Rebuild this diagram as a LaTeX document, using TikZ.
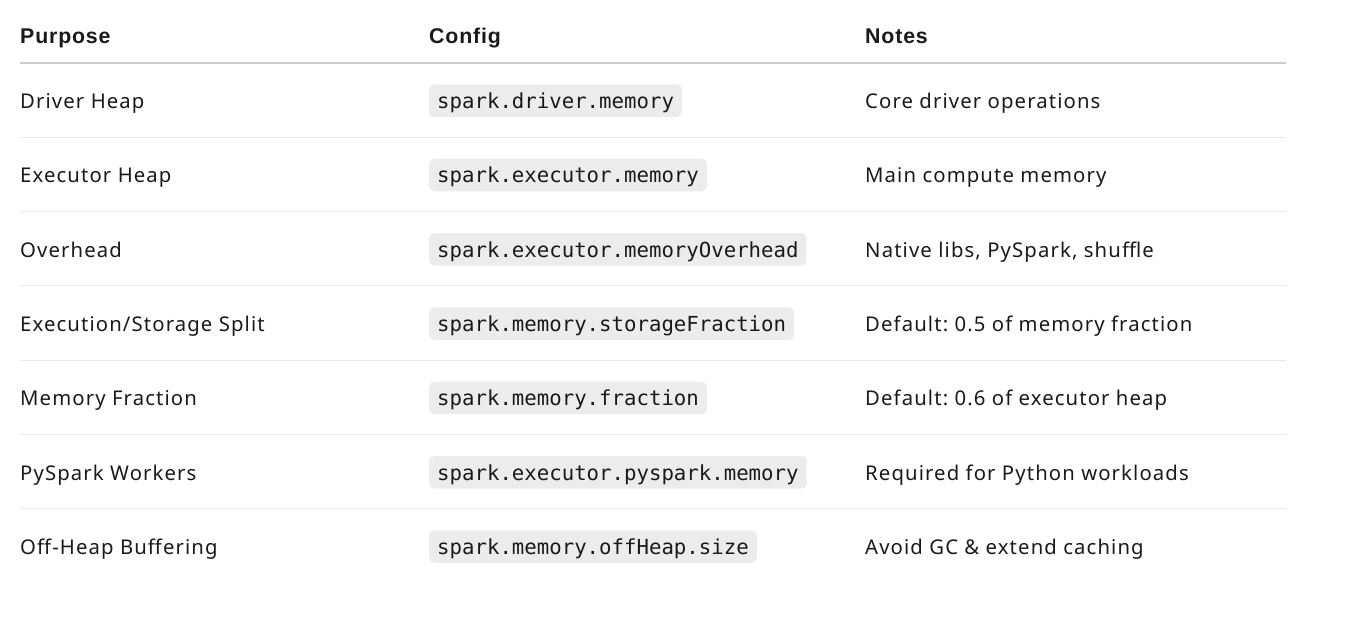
\documentclass[tikz,border=0pt]{standalone}
\usepackage{fontspec}
\setmainfont[LetterSpace=5.5]{Noto Sans}
\newfontfamily\headfont[LetterSpace=4]{Liberation Sans}
\setmonofont{DejaVu Sans Mono}
\frenchspacing

\definecolor{ink}{HTML}{1A1A1A}
\definecolor{codebg}{HTML}{ECECEC}
\definecolor{headrule}{HTML}{CCCCCC}
\definecolor{rowrule}{HTML}{E9E9E9}

\begin{document}
\begin{tikzpicture}[x=1pt, y=-1pt,
	cell/.style={anchor=base west, inner sep=0pt, text=ink, font=\fontsize{20.3}{24}\selectfont},
	head/.style={cell, font=\fontsize{21.3}{24}\headfont\bfseries},
	codebox/.style={anchor=base west, inner xsep=8pt, inner ysep=0pt, text height=24pt, text depth=8.5pt,
		fill=codebg, rounded corners=5pt, text=ink, font=\fontsize{20.7}{24}\ttfamily}]
	\useasboundingbox[fill=white] (0,0) rectangle (1358,620);

	% header
	\node[head] (hpur) at (20,43.5) {Purpose};
	\node[head] (hcfg) at (429,43.5) {Config};
	\node[head] (hnote) at (865,43.5) {Notes};
	\draw[headrule, line width=1.5pt] (20,63) -- (1286,63);

	% rows
	\foreach \purpose/\config/\note [count=\i] in {
		Driver Heap/spark.driver.memory/Core driver operations,
		Executor Heap/spark.executor.memory/Main compute memory,
		Overhead/spark.executor.memoryOverhead/{Native libs, PySpark, shuffle},
		{Execution/Storage Split}/spark.memory.storageFraction/{Default: 0.5 of memory fraction},
		Memory Fraction/spark.memory.fraction/{Default: 0.6 of executor heap},
		PySpark Workers/spark.executor.pyspark.memory/Required for Python workloads,
		Off-Heap Buffering/spark.memory.offHeap.size/Avoid GC \& extend caching} {
		\pgfmathsetmacro\yb{108.5+74.3*(\i-1)}
		\node[cell] (pur\i) at (20,\yb) {\purpose};
		\node[codebox] (cfg\i) at (429,\yb) {\config};
		\node[cell] (note\i) at (865,\yb) {\note};
	}

	\foreach \k in {1,...,6}
		\draw[rowrule, line width=1pt] (20,63+74.3*\k) -- (1286,63+74.3*\k);
\end{tikzpicture}
\end{document}
